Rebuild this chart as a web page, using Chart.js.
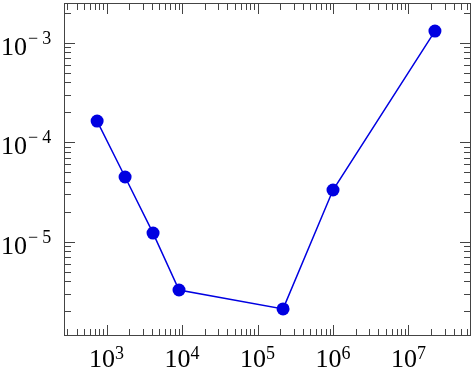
<!DOCTYPE html>
<html>
<head>
<meta charset="utf-8">
<script src="https://cdn.jsdelivr.net/npm/chart.js@4/dist/chart.umd.min.js"></script>
<style>
  body { margin: 0; background: #fff; }
  canvas { display: block; }
</style>
</head>
<body>
<canvas id="myChart" width="474" height="371"></canvas>
<script>
// datos (log-log)
const xValues = [750, 1760, 4130, 9120, 218000, 1000000, 22400000];
const yValues = [1.63e-4, 4.47e-5, 1.22e-5, 3.27e-6, 2.11e-6, 3.31e-5, 1.31e-3];
const xTickExps = [3, 4, 5, 6, 7];
const yTickExps = [-5, -4, -3];
const xRange = [273, 6.73e7];
const yRange = [1.127e-6, 2.51e-3];

const lineColor = 'rgb(0,0,225)';
const axisColor = '#444';
const fontName = '"Liberation Serif", "DejaVu Serif", serif';

function supExp(n) {
  return (n < 0 ? '\u2212' : '') + Math.abs(n);
}

// ticks hacia adentro en los cuatro lados, como en pgfplots
const ejesPlugin = {
  id: 'ejes',
  afterDraw(chart) {
    const ctx = chart.ctx;
    const a = chart.chartArea;
    const sx = chart.scales.x;
    const sy = chart.scales.y;
    ctx.save();
    ctx.strokeStyle = axisColor;
    ctx.lineWidth = 1;
    ctx.strokeRect(a.left + 0.5, a.top + 0.5, a.right - a.left - 1, a.bottom - a.top - 1);

    const tickX = (v, len) => {
      const p = Math.round(sx.getPixelForValue(v)) + 0.5;
      ctx.beginPath();
      ctx.moveTo(p, a.bottom); ctx.lineTo(p, a.bottom - len);
      ctx.moveTo(p, a.top); ctx.lineTo(p, a.top + len);
      ctx.stroke();
    };
    const tickY = (v, len) => {
      const p = Math.round(sy.getPixelForValue(v)) + 0.5;
      ctx.beginPath();
      ctx.moveTo(a.left, p); ctx.lineTo(a.left + len, p);
      ctx.moveTo(a.right, p); ctx.lineTo(a.right - len, p);
      ctx.stroke();
    };
    for (let d = 2; d <= 7; d++) {
      for (let k = 1; k <= 9; k++) {
        const v = k * Math.pow(10, d);
        if (v > xRange[0] && v < xRange[1]) tickX(v, k === 1 ? 11 : 7);
      }
    }
    for (let d = -6; d <= -3; d++) {
      for (let k = 1; k <= 9; k++) {
        const v = k * Math.pow(10, d);
        if (v > yRange[0] && v < yRange[1]) tickY(v, k === 1 ? 11 : 7);
      }
    }

    // etiquetas 10^n
    ctx.fillStyle = '#000';
    ctx.textBaseline = 'alphabetic';
    const baseFont = '26px ' + fontName;
    const expFont = '18px ' + fontName;
    xTickExps.forEach(e => {
      const p = sx.getPixelForValue(Math.pow(10, e));
      ctx.font = baseFont;
      const w1 = ctx.measureText('10').width;
      ctx.font = expFont;
      const w2 = ctx.measureText(supExp(e)).width;
      const x0 = p - (w1 + w2) / 2;
      ctx.font = baseFont;
      ctx.textAlign = 'left';
      ctx.fillText('10', x0, 367);
      ctx.font = expFont;
      ctx.fillText(supExp(e), x0 + w1, 359);
    });
    yTickExps.forEach(e => {
      const p = sy.getPixelForValue(Math.pow(10, e));
      ctx.font = baseFont;
      ctx.textAlign = 'right';
      ctx.fillText('10', 27, p + 12);
      ctx.font = expFont;
      ctx.textAlign = 'left';
      ctx.letterSpacing = '4px';
      ctx.fillText(supExp(e), 28, p + 1);
      ctx.letterSpacing = '0px';
    });
    ctx.restore();
  }
};

const ctx = document.getElementById('myChart').getContext('2d');
const chart = new Chart(ctx, {
  type: 'line',
  data: {
    datasets: [{
      data: xValues.map((x, i) => ({ x: x, y: yValues[i] })),
      borderColor: lineColor,
      backgroundColor: lineColor,
      borderWidth: 1.5,
      pointRadius: 6.5,
      pointBorderWidth: 0,
      pointBackgroundColor: lineColor,
      tension: 0,
      clip: false
    }]
  },
  options: {
    responsive: false,
    animation: false,
    layout: { autoPadding: false, padding: { left: 64, top: 3, right: 3, bottom: 35 } },
    plugins: { legend: { display: false }, tooltip: { enabled: false } },
    scales: {
      x: { type: 'logarithmic', min: xRange[0], max: xRange[1], display: false },
      y: { type: 'logarithmic', min: yRange[0], max: yRange[1], display: false }
    }
  },
  plugins: [ejesPlugin]
});
</script>
</body>
</html>
